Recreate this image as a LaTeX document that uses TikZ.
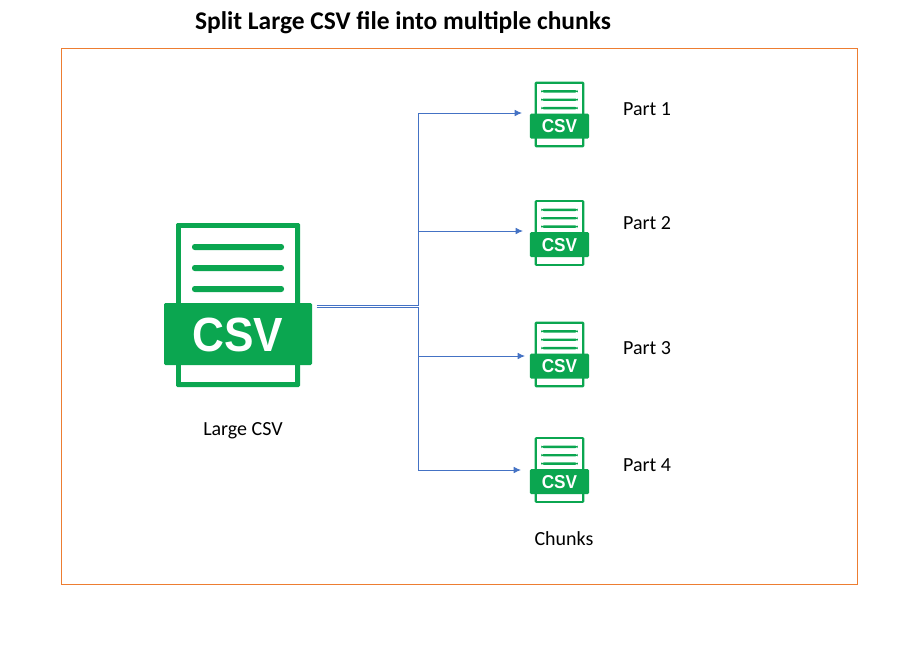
\documentclass[tikz,border=0pt]{standalone}
\usepackage{fontspec}
\usetikzlibrary{arrows.meta}
\setmainfont{Carlito}
\newfontfamily\iconfont{Liberation Sans}[Scale=1]
\definecolor{csvgreen}{HTML}{0BA650}
\definecolor{linkblue}{HTML}{4472C4}
\definecolor{frameorange}{HTML}{ED7D31}
\tikzset{
  linkline/.style={draw=linkblue, line width=0.7pt},
  linkarrow/.style={linkline, -{Latex[length=5.5pt,width=5pt]}},
  framebox/.style={draw=frameorange, line width=0.75pt},
  partlabel/.style={font=\fontsize{15}{18}\selectfont},
  pics/csvicon/.style={code={
    \fill [csvgreen, rounded corners=1] (-62,-82) rectangle (62,82);
    \fill [white] (-57,-77) rectangle (57,77);
    \fill [csvgreen, rounded corners=2] (-46,-61) rectangle (46,-55);
    \fill [csvgreen, rounded corners=2] (-46,-40) rectangle (46,-34);
    \fill [csvgreen, rounded corners=2] (-46,-19) rectangle (46,-13);
    \fill [csvgreen, rounded corners=1] (-74,-2) rectangle (74,60);
    \node [white, inner sep=0pt, font=\iconfont\bfseries\fontsize{#1}{#1}\selectfont] (-text) at (0,29.5) {\scalebox{.92}[1]{CSV}};
  }}
}
\begin{document}
\begin{tikzpicture}[x=0.75pt,y=-0.75pt]
\useasboundingbox (0,0) rectangle (900,644);
\node [font=\fontsize{19.1}{23}\selectfont\bfseries] (title) at (403,23) {Split Large CSV file into multiple chunks};
\node [framebox, minimum width=597pt, minimum height=402pt, inner sep=0pt] (frame) at (459,316) {};
% big file
\pic (big) at (238,305) {csvicon=36};
\node [partlabel] (biglabel) at (243,431) {Large CSV};
% chunks
\pic [scale=0.4] (chunk1) at (559.5,114.5) {csvicon=14};
\pic [scale=0.4] (chunk2) at (559.5,233) {csvicon=14};
\pic [scale=0.4] (chunk3) at (559.5,354.5) {csvicon=14};
\pic [scale=0.4] (chunk4) at (559.5,470) {csvicon=14};
\node [partlabel] (part1) at (647,109) {Part 1};
\node [partlabel] (part2) at (647,223) {Part 2};
\node [partlabel] (part3) at (647,348) {Part 3};
\node [partlabel] (part4) at (647,465) {Part 4};
\node [partlabel] (chunks) at (564,539) {Chunks};
% connectors
\coordinate (outa) at (316.5,305.8);
\coordinate (outb) at (316.5,307.6);
\coordinate (trunka) at (418.5,305.8);
\coordinate (trunkb) at (418.5,307.6);
\coordinate (tip1) at (522,113);
\coordinate (tip2) at (523,231);
\coordinate (tip3) at (525,356);
\coordinate (tip4) at (521,470);
\draw [linkline] (outa) -- (trunka);
\draw [linkline] (outb) -- (trunkb);
\draw [linkarrow] (trunka) |- (tip1);
\draw [linkarrow] (trunka) |- (tip2);
\draw [linkarrow] (trunkb) |- (tip3);
\draw [linkarrow] (trunkb) |- (tip4);
\end{tikzpicture}
\end{document}
